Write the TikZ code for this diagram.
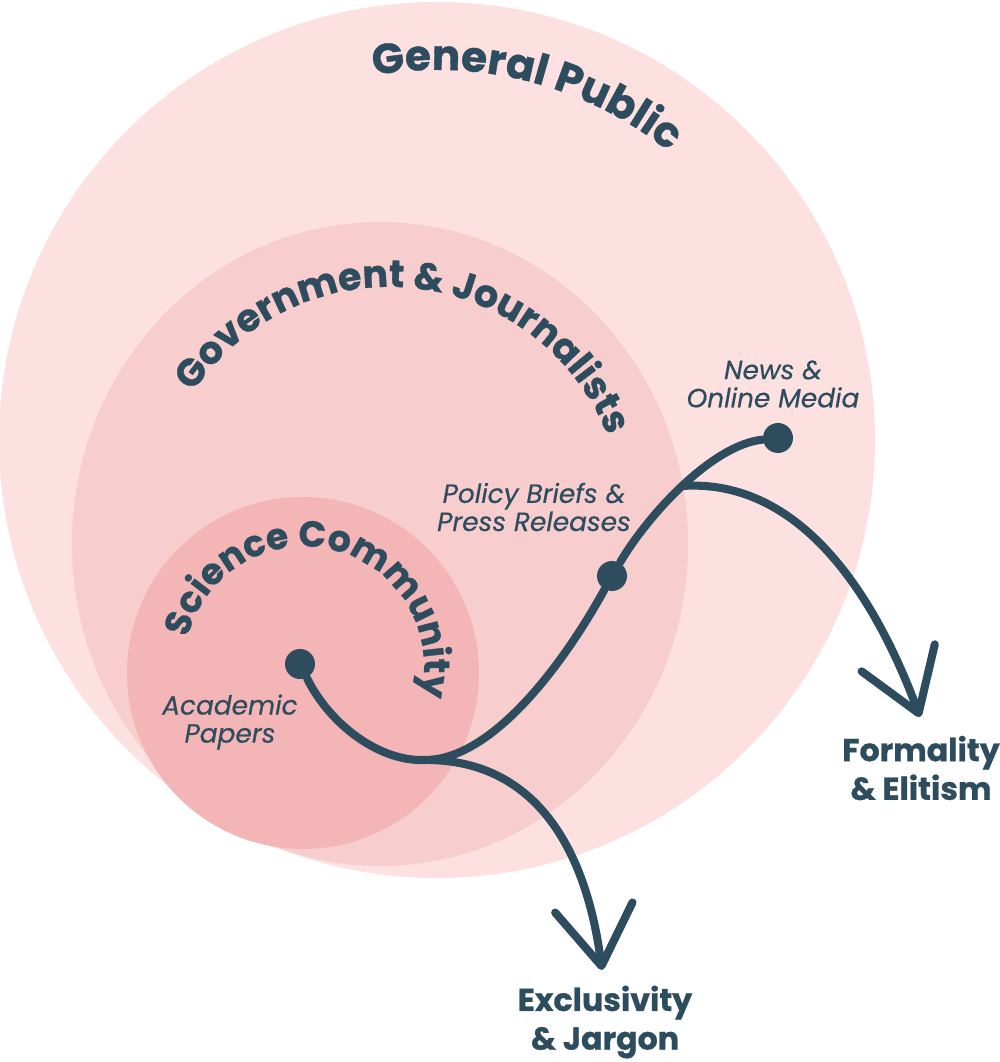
\documentclass[tikz,border=0pt]{standalone}
\usepackage{fontspec}
\setmainfont{Poppins}[BoldFeatures={FakeBold=0.8},ItalicFeatures={FakeBold=0.4}]
\usetikzlibrary{arrows.meta,decorations.text}
\definecolor{cink}{HTML}{2d4c5e}
\definecolor{cpub}{HTML}{fde1e1}
\definecolor{cgov}{HTML}{f7cdcd}
\definecolor{csci}{HTML}{f3b5b5}

\begin{document}
\begin{tikzpicture}[x=1cm,y=1cm,
  dot/.style={circle,fill=cink,inner sep=0pt,minimum size=0.30cm},
  flow/.style={cink,line width=2.3pt,line cap=round},
  way/.style={flow,-{Straight Barb[length=0.59cm,width=0.78cm,round]}},
  src/.style={cink,font=\itshape\fontsize{7.5}{8}\selectfont,align=center,inner sep=0pt},
  outcome/.style={cink,font=\bfseries\fontsize{9}{11}\selectfont,align=center,inner sep=0pt},
  ring/.style={decorate,decoration={text along path,text align=center,text color=cink}}]
  \useasboundingbox (0,0) rectangle (10,10.62);

  % Three nested audiences
  \fill[cpub] (4.37,6.22) circle (4.38);
  \fill[cgov] (3.80,5.18) ellipse (3.08 and 3.22);
  \fill[csci] (3.03,3.89) circle (1.76);

  % Audience names, bent along the rings
  \path[ring,decoration={text={|\bfseries\fontsize{12}{12}\selectfont|General Public}}]
    ([shift={(4.37,6.22)}]155.5:3.70) arc (155.5:-4.5:3.70);
  \path[ring,decoration={text={|\bfseries\fontsize{10.8}{12}\selectfont|Government {\&} Journalists}}]
    ([shift={(3.89,5.40)}]199:2.35) arc (199:-31:2.35);
  \path[ring,decoration={text={|\bfseries\fontsize{10.3}{12}\selectfont|Science Community}}]
    ([shift={(3.04,3.955)}]186:1.20) arc (186:-34:1.20);

  % Stops along the path
  \node[dot] (acad) at (3.00,3.98) {};
  \node[dot] (policy) at (6.12,4.86) {};
  \node[dot] (news) at (7.78,6.24) {};
  \coordinate (low) at (4.25,3.02);
  \coordinate (forkb) at (4.30,3.02);
  \coordinate (fork) at (6.82,5.76);
  \coordinate (jargon) at (6.02,0.92);
  \coordinate (elite) at (9.20,3.45);

  % Main path and the two side-effects
  \draw[flow] (acad) .. controls (3.30,3.37) and (3.80,3.00) .. (low)
    .. controls (4.90,3.02) and (5.60,3.92) .. (policy)
    .. controls (6.48,5.47) and (7.12,6.17) .. (news);
  \draw[way] (forkb) .. controls (5.30,3.00) and (5.85,2.22) .. (jargon);
  \draw[way] (fork) .. controls (8.00,5.84) and (8.75,4.67) .. (elite);

  % Labels
  \node[src] (acadtxt) at (2.30,3.40) {Academic\\Papers};
  \node[src] (policytxt) at (5.34,5.55) {Policy Briefs \&\\Press Releases};
  \node[src] (newstxt) at (7.73,6.78) {News \&\\Online Media};
  \node[outcome] (elitetxt) at (9.21,2.94) {Formality\\\& Elitism};
  \node[outcome] (jargontxt) at (6.05,0.40) {Exclusivity\\\& Jargon};

\end{tikzpicture}
\end{document}
